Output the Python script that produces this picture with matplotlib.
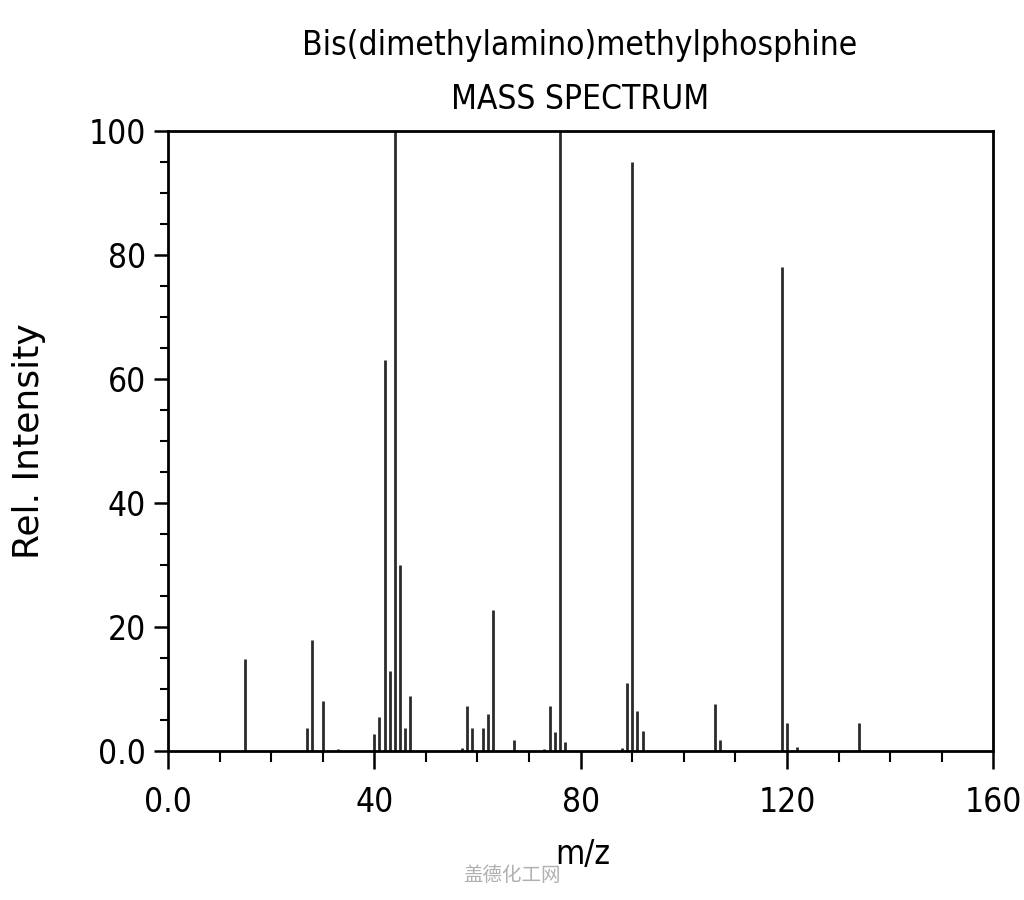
#!/usr/bin/env python3
"""Mass spectrum of bis(dimethylamino)methylphosphine as a stick plot."""

import matplotlib

matplotlib.use("Agg")
import matplotlib.pyplot as plt
from matplotlib.ticker import FixedLocator, MultipleLocator, FuncFormatter


# m/z and relative intensity
mz = [15, 27, 28, 30, 33, 40, 41, 42, 43, 44, 45, 46, 47,
      57, 58, 59, 61, 62, 63, 67, 73, 74, 75, 76, 77,
      88, 89, 90, 91, 92, 106, 107, 119, 120, 122, 134]
intensity = [14.8, 3.7, 17.9, 8.0, 0.3, 2.8, 5.4, 63.0, 12.9, 100.0, 30.0, 3.7, 8.9,
             0.5, 7.3, 3.7, 3.7, 6.0, 22.8, 1.8, 0.3, 7.3, 3.0, 100.0, 1.5,
             0.5, 10.9, 95.0, 6.5, 3.2, 7.5, 1.8, 78.0, 4.5, 0.7, 4.5]

x_ticks = [0, 40, 80, 120, 160]
y_ticks = [0, 20, 40, 60, 80, 100]

title_lines = ["Bis(dimethylamino)methylphosphine", "MASS SPECTRUM"]


def tick_label(value, _pos):
    return "0.0" if value == 0 else f"{value:.0f}"


# the original image looks squeezed sideways, so condensed glyphs fit it best
plt.rcParams["font.stretch"] = "condensed"

fig = plt.figure(figsize=(10.24, 9.0), dpi=100)
ax = fig.add_axes([0.164, 0.1656, 0.806, 0.6888])

ax.vlines(mz, 0, intensity, colors="#2b2b2b", linewidth=2.0)

ax.set_xlim(0, 160)
ax.set_ylim(0, 100)
ax.xaxis.set_major_locator(FixedLocator(x_ticks))
ax.yaxis.set_major_locator(FixedLocator(y_ticks))
ax.xaxis.set_minor_locator(MultipleLocator(10))
ax.yaxis.set_minor_locator(MultipleLocator(5))
ax.xaxis.set_major_formatter(FuncFormatter(tick_label))
ax.yaxis.set_major_formatter(FuncFormatter(tick_label))
ax.tick_params(which="major", direction="out", width=1.8, labelsize=24)
ax.tick_params(axis="x", which="major", length=13, pad=12)
ax.tick_params(axis="y", which="major", length=10, pad=6)
ax.tick_params(axis="x", which="minor", direction="out", length=8, width=1.5)
ax.tick_params(axis="y", which="minor", direction="out", length=6, width=1.5)
for spine in ax.spines.values():
    spine.set_linewidth(2.0)

ax.set_xlabel("m/z", fontsize=24)
ax.xaxis.set_label_coords(0.503, -0.14)
ax.set_ylabel("Rel. Intensity", fontsize=26, fontstretch="normal")
ax.yaxis.set_label_coords(-0.148, 0.5)

fig.text(0.566, 0.950, title_lines[0], ha="center", va="center", fontsize=24)
fig.text(0.566, 0.889, title_lines[1], ha="center", va="center", fontsize=24)

fig.text(0.5, 0.027, "盖德化工网", ha="center", va="center", fontsize=14,
         color="#b0b0b0", family=["Noto Sans CJK SC", "DejaVu Sans"])

fig.savefig("out.png", dpi=100, facecolor="white")
plt.close(fig)
